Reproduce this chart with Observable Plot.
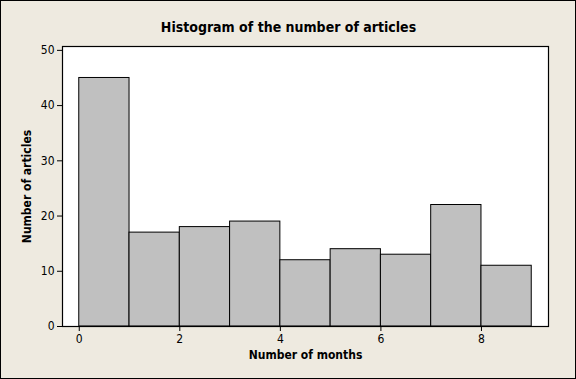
<!DOCTYPE html>
<html>
<head>
<meta charset="utf-8">
<script src="https://cdn.jsdelivr.net/npm/d3@7"></script>
<script src="https://cdn.jsdelivr.net/npm/@observablehq/plot@0.6"></script>
<style>
  html, body { margin: 0; padding: 0; }
  #c { position: relative; width: 576px; height: 379px; background: #EEEAE0; overflow: hidden; }
  #c svg { position: absolute; left: 0; top: 0; }
  #border { position: absolute; left: 0; top: 0; width: 576px; height: 379px; box-sizing: border-box; border: 1px solid #000; pointer-events: none; }
</style>
</head>
<body>
<div id="c"><div id="border"></div></div>
<script>
const binStart = [0, 1, 2, 3, 4, 5, 6, 7, 8];
const binEnd   = [1, 2, 3, 4, 5, 6, 7, 8, 9];
const counts   = [45, 17, 18, 19, 12, 14, 13, 22, 11];
const xTicks = [0, 2, 4, 6, 8];
const yTicks = [0, 10, 20, 30, 40, 50];
const titleText = "Histogram of the number of articles";
const xLabel = "Number of months";
const yLabel = "Number of articles";

const data = binStart.map((s, i) => ({start: s, end: binEnd[i], count: counts[i]}));
const font = "'DejaVu Sans Condensed', 'DejaVu Sans', sans-serif";

const chart = Plot.plot({
  width: 576,
  height: 379,
  marginLeft: 62,
  marginRight: 28,
  marginTop: 46,
  marginBottom: 53,
  style: {background: "transparent", fontFamily: font, fontSize: "12px", color: "#000", overflow: "visible"},
  x: {domain: [-1/3, 28/3]},
  y: {domain: [0, 50.7]},
  marks: [
    Plot.frame({fill: "white"}),
    Plot.rectY(data, {x1: "start", x2: "end", y: "count", fill: "#C0C0C0", stroke: "#000", strokeWidth: 1}),
    Plot.frame({stroke: "#000", strokeWidth: 1.2}),
    Plot.axisX({ticks: xTicks, tickSize: 5, tickPadding: 3, label: null, tickFormat: d => d, fontSize: 12}),
    Plot.axisY({ticks: yTicks, tickSize: 5, tickPadding: 3, label: null, tickFormat: d => d, fontSize: 12}),
    Plot.text([titleText], {text: d => d, frameAnchor: "top", lineAnchor: "middle", dx: -17, dy: -19, fontWeight: "bold", fontSize: 14, fontFamily: font}),
    Plot.text([xLabel], {text: d => d, frameAnchor: "bottom", lineAnchor: "middle", dy: 29, fontWeight: "bold", fontSize: 12, fontFamily: font}),
    Plot.text([yLabel], {text: d => d, frameAnchor: "left", textAnchor: "middle", lineAnchor: "middle", dx: -35, rotate: -90, fontWeight: "bold", fontSize: 12, fontFamily: font})
  ]
});
document.getElementById("c").insertBefore(chart, document.getElementById("border"));
</script>
</body>
</html>
